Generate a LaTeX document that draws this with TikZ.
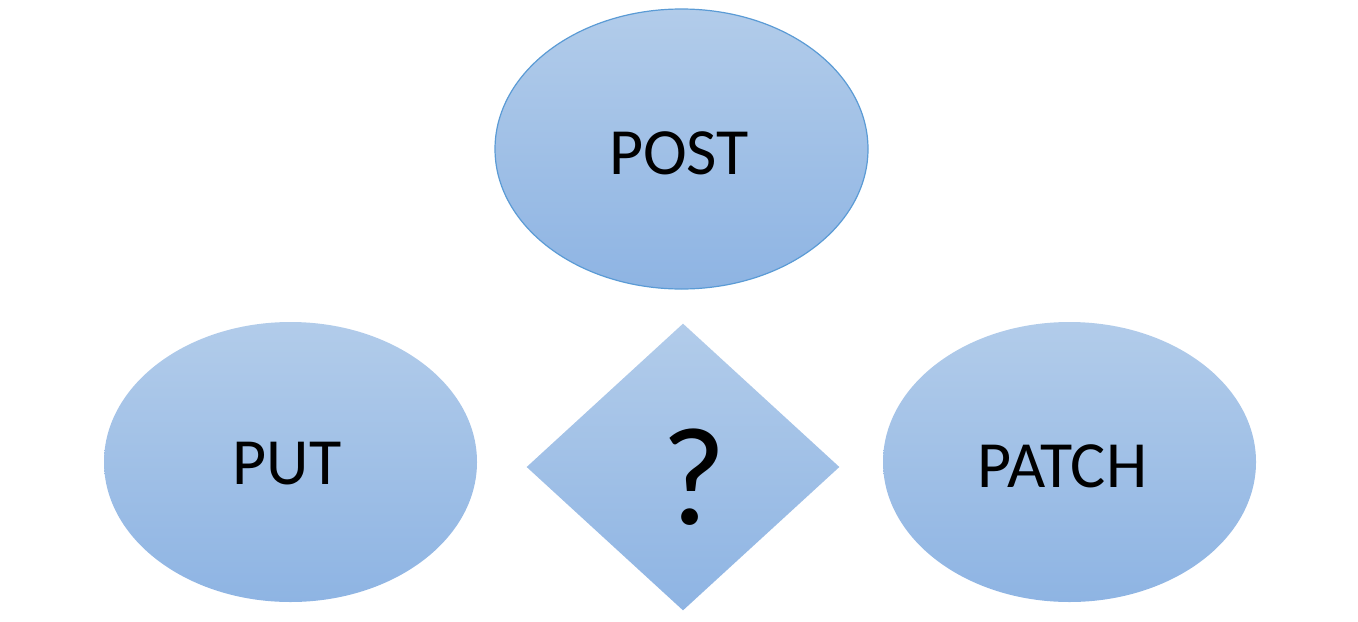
\documentclass[tikz,border=0pt]{standalone}
\usepackage{fontspec}
\setmainfont{Carlito}
\usetikzlibrary{shapes.geometric}
\definecolor{topblue}{HTML}{B2CCEA}
\definecolor{botblue}{HTML}{8EB4E3}
\definecolor{edgeblue}{HTML}{5B9BD5}
\tikzset{
  blob/.style={ellipse, inner sep=0pt, minimum width=186.5pt, minimum height=140pt,
    top color=topblue, bottom color=botblue, draw=none},
  choice/.style={diamond, inner sep=0pt, minimum width=156.5pt, minimum height=143.5pt,
    top color=topblue, bottom color=botblue, draw=none},
  lbl/.style={font=\fontsize{33}{39}\selectfont, text=black, inner sep=0pt}
}
\begin{document}
\begin{tikzpicture}[x=0.5pt,y=-0.5pt]
\useasboundingbox (0,0) rectangle (1358,621);
\node[blob, draw=edgeblue, line width=0.6pt] (post) at (681.5,149) {};
\node[blob] (put) at (290.5,462) {};
\node[blob] (patch) at (1069.5,462) {};
\node[choice] (q) at (683,467) {};
\node[lbl] (postl) at (679,153) {POST};
\node[lbl] (putl) at (287,464) {PUT};
\node[lbl] (patchl) at (1062.5,466) {PATCH};
\node[lbl, font=\fontsize{70}{78}\selectfont] (ql) at (694,477) {?};
\end{tikzpicture}
\end{document}
